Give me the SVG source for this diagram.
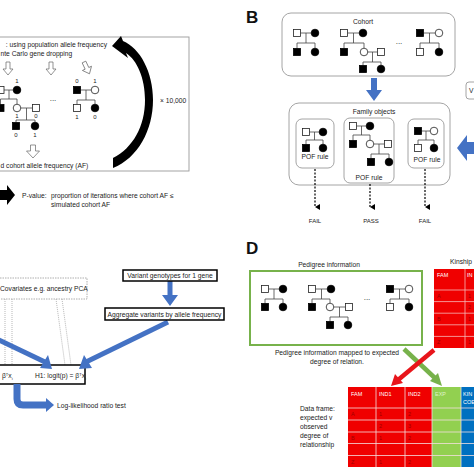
<svg xmlns="http://www.w3.org/2000/svg" width="474" height="474" viewBox="0 0 474 474">
<style>
text{font-family:"Liberation Sans",Arial,sans-serif;font-size:6.7px;fill:#222}
.c{text-anchor:middle}
.lbl{font-size:17px;font-weight:bold;fill:#111}
.o{fill:#fff;stroke:#222;stroke-width:0.8}
.f{fill:#000;stroke:#000;stroke-width:0.8}
.ln{stroke:#444;stroke-width:0.8;fill:none}
.box{fill:#fff;stroke:#9a9a9a;stroke-width:0.9}
.hol{fill:#fff;stroke:#666;stroke-width:0.7}
.blue{fill:#4472c4}
.num{font-size:6px}
.tw{fill:#fff;font-size:5.5px}
.td{fill:#9e0000;font-size:5.5px}
</style>
<defs>
<path id="hA" d="M-2,0 h4 v7 h3 l-5,6 l-5,-6 h3 z"/>
<marker id="dh" markerWidth="6" markerHeight="6" refX="3" refY="5" orient="auto" markerUnits="userSpaceOnUse" viewBox="0 0 6 6"><path d="M0,0 L3,5 L6,0 Z" fill="#000"/></marker>
</defs>

<!-- PANEL A -->
<g id="panelA">
<rect class="box" x="-5" y="37" width="194" height="134"/>
<text x="107" y="47" text-anchor="end">: using population allele frequency</text>
<text x="0.5" y="56">nte Carlo gene dropping</text>
<use href="#hA" class="hol" transform="translate(8,62)"/>
<use href="#hA" class="hol" transform="translate(51,62)"/>
<use href="#hA" class="hol" transform="translate(84,62) rotate(-25)"/>
<g id="a-ped1">
<path class="ln" d="M4,90 H13 M9,90 V99 M0.5,99 H17 M0.5,99 V104.5 M17,99 V104.2 M20.8,108 H32.5 M26.5,108 V120 M16,120 H35 M16,120 V122.5 M35,120 V122.2"/>
<rect class="o" x="-3" y="86.5" width="7" height="7"/>
<circle class="f" cx="17" cy="90" r="3.8"/>
<rect class="f" x="-3" y="104.5" width="7" height="7"/>
<circle class="o" cx="17" cy="108" r="3.8"/>
<rect class="o" x="32.5" y="104.5" width="7" height="7"/>
<rect class="f" x="12.5" y="122.5" width="7" height="7"/>
<circle class="f" cx="35" cy="126" r="3.8"/>
<text class="c num" x="17" y="83">1</text>
<text class="c num" x="17" y="117.5">1</text>
<text class="c num" x="36" y="117.5">0</text>
<text class="c num" x="16" y="137">0</text>
<text class="c num" x="35" y="137">1</text>
</g>
<text class="c" x="53" y="101" style="font-size:8px">...</text>
<g id="a-ped2">
<path class="ln" d="M80.5,90 H91.2 M86,90 V100 M77,100 H95 M77,100 V104.5 M95,100 V104.2"/>
<rect class="f" x="73.5" y="86.5" width="7" height="7"/>
<circle class="o" cx="95" cy="90" r="3.8"/>
<rect class="o" x="73.5" y="104.5" width="7" height="7"/>
<circle class="f" cx="95" cy="108" r="3.8"/>
<text class="c num" x="77" y="83">0</text>
<text class="c num" x="95" y="83">1</text>
<text class="c num" x="77" y="119">1</text>
<text class="c num" x="95" y="119">0</text>
</g>
<path class="hol" transform="translate(33,145)" d="M-2.5,0 h5 v6 h4 l-6.5,7 l-6.5,-7 h4 z"/>
<text x="0.5" y="168">d cohort allele frequency (AF)</text>
<path id="loop" fill="#000" d="M112,46 L121,36 L123,41 C140,48 153,72 153,100 C153,130 138,158 113,168 L113,158 C133,148 145,126 145,100 C145,78 137,60 126,53 L128,58 Z"/>
<text x="160" y="103">× 10,000</text>
<path id="pArrow" fill="#000" d="M-5,190 H7 V185 L15,195 L7,205 V200 H-5 Z"/>
<text x="22" y="197.5">P-value:</text>
<text x="51" y="197.5">proportion of iterations where cohort AF ≤</text>
<text x="51" y="207">simulated cohort AF</text>
</g>

<!-- PANEL B -->
<g id="panelB">
<text class="lbl" x="246" y="23">B</text>
<g id="cohort">
<rect class="box" x="282" y="13" width="173" height="63" rx="9"/>
<text class="c" x="363" y="24">Cohort</text>
<path class="ln" d="M300.5,33 H311.2 M306,33 V43 M297,43 H315 M297,43 V48.5 M315,43 V48.2"/>
<rect class="o" x="293.5" y="29.5" width="7" height="7"/>
<circle class="f" cx="315" cy="33" r="3.8"/>
<rect class="f" x="293.5" y="48.5" width="7" height="7"/>
<circle class="f" cx="315" cy="52" r="3.8"/>
<path class="ln" d="M347.5,33 H359.2 M353.5,33 V43 M344,43 H364 M344,43 V48.5 M364,43 V48.2 M367.8,52 H377.5 M372.5,52 V62 M363,62 H381 M363,62 V65.5 M381,62 V65.2"/>
<rect class="o" x="340.5" y="29.5" width="7" height="7"/>
<circle class="f" cx="363" cy="33" r="3.8"/>
<rect class="f" x="340.5" y="48.5" width="7" height="7"/>
<circle class="o" cx="364" cy="52" r="3.8"/>
<rect class="o" x="377.5" y="48.5" width="7" height="7"/>
<rect class="f" x="359.5" y="65.5" width="7" height="7"/>
<circle class="f" cx="381" cy="69" r="3.8"/>
<text class="c" x="399" y="44" style="font-size:8px">...</text>
<path class="ln" d="M423.5,33 H435.2 M429.5,33 V43 M420,43 H439 M420,43 V48.5 M439,43 V48.2"/>
<rect class="f" x="416.5" y="29.5" width="7" height="7"/>
<circle class="o" cx="439" cy="33" r="3.8"/>
<rect class="o" x="416.5" y="48.5" width="7" height="7"/>
<circle class="f" cx="439" cy="52" r="3.8"/>
</g>
<path class="blue" d="M371,78 H377 V90 H382 L374,101 L366,90 H371 Z"/>
<g id="families">
<rect class="box" x="289" y="103" width="161" height="82" rx="10"/>
<text class="c" x="374" y="114">Family objects</text>
<g id="fam1">
<rect class="box" x="296" y="119" width="38" height="49" rx="6"/>
<path class="ln" d="M309.5,132 H319.2 M314.5,132 V140 M306,140 H323 M306,140 V144.5 M323,140 V144.2"/>
<rect class="o" x="302.5" y="128.5" width="7" height="7"/>
<circle class="f" cx="323" cy="132" r="3.8"/>
<rect class="f" x="302.5" y="144.5" width="7" height="7"/>
<circle class="f" cx="323" cy="148" r="3.8"/>
<text class="c" x="315" y="159">POF rule</text>
</g>
<g id="fam2">
<rect class="box" x="344" y="118" width="50" height="65" rx="6"/>
<path class="ln" d="M356.5,126 H366.2 M361.5,126 V135 M353,135 H370 M353,135 V140.5 M370,135 V140.2 M373.8,144 H384.5 M379,144 V154 M371,154 H389 M371,154 V158.5 M389,154 V158.2"/>
<rect class="o" x="349.5" y="122.5" width="7" height="7"/>
<circle class="f" cx="370" cy="126" r="3.8"/>
<rect class="f" x="349.5" y="140.5" width="7" height="7"/>
<circle class="o" cx="370" cy="144" r="3.8"/>
<rect class="o" x="384.5" y="140.5" width="7" height="7"/>
<rect class="f" x="367.5" y="158.5" width="7" height="7"/>
<circle class="f" cx="389" cy="162" r="3.8"/>
<text class="c" x="369" y="180">POF rule</text>
</g>
<g id="fam3">
<rect class="box" x="408" y="119" width="36" height="49" rx="6"/>
<path class="ln" d="M421.5,131 H430.2 M426,131 V140 M418,140 H434 M418,140 V144.5 M434,140 V144.2"/>
<rect class="f" x="414.5" y="127.5" width="7" height="7"/>
<circle class="o" cx="434" cy="131" r="3.8"/>
<rect class="o" x="414.5" y="144.5" width="7" height="7"/>
<circle class="f" cx="434" cy="148" r="3.8"/>
<text class="c" x="427" y="162">POF rule</text>
</g>
</g>
<g id="b-connectors" stroke="#000" stroke-width="1.2" stroke-dasharray="2,1.5" fill="none">
<path d="M315,169 V207" marker-end="url(#dh)"/>
<path d="M370,184 V207" marker-end="url(#dh)"/>
<path d="M425,169 V207" marker-end="url(#dh)"/>
</g>
<text class="c" x="315" y="223" style="font-size:6px">FAIL</text>
<text class="c" x="371" y="223" style="font-size:6px">PASS</text>
<text class="c" x="425" y="223" style="font-size:6px">FAIL</text>
<path class="blue" d="M457,148 L467,135 V142 H480 V154 H467 V161 Z"/>
<rect class="box" x="466" y="82" width="20" height="17" rx="3"/>
<text x="469" y="93">V</text>
</g>

<!-- PANEL C -->
<g id="panelC">
<rect x="-5" y="278" width="92" height="21" fill="#fff" stroke="#999" stroke-width="0.8" stroke-dasharray="1.5,1"/>
<text x="0" y="290.5">Covariates e.g. ancestry PCA</text>
<g stroke="#9a9a9a" stroke-width="0.7" stroke-dasharray="1,1" fill="none">
<path d="M5,299 V365 M12,299 V365 M56,299 L65,365 M62,299 L71,365"/>
</g>
<rect id="formula" x="-5" y="365" width="90" height="19" fill="#fff" stroke="#000" stroke-width="1.5"/>
<text x="2" y="378">β<tspan dy="-2.5" style="font-size:4px">T</tspan><tspan dy="2.5">x</tspan><tspan dy="1.5" style="font-size:4px">i</tspan></text>
<text x="35" y="378">H1: logit(p) = β<tspan dy="-2.5" style="font-size:4px">T</tspan><tspan dy="2.5">x</tspan><tspan dy="1.5" style="font-size:4px">i</tspan></text>
<g id="c-connectors">
<path d="M-5,338 L45,362" stroke="#4472c4" stroke-width="5" fill="none"/>
<path class="blue" d="M52,369 L40,368 L48,355 Z"/>
<path d="M168,322 L86,362" stroke="#4472c4" stroke-width="5" fill="none"/>
<path class="blue" d="M79,369 L84,355 L92,368 Z"/>
<path d="M17,384 V399 Q17,405 23,405 H47" stroke="#4472c4" stroke-width="7" fill="none"/>
<path class="blue" d="M46,398 L54,405 L46,412 Z"/>
<path class="blue" d="M167.5,281 H172.5 V295 H178 L170,306 L162,295 H167.5 Z"/>
</g>
<text x="57" y="407.5">Log-likelihood ratio test</text>
<g id="variantBox">
<rect x="123" y="270" width="94" height="11" fill="#fff" stroke="#000" stroke-width="1.5"/>
<text class="c" x="170" y="278">Variant genotypes for 1 gene</text>
</g>
<g id="aggBox">
<rect x="105" y="308" width="119" height="12" fill="#fff" stroke="#000" stroke-width="1.5"/>
<text class="c" x="164.5" y="316.5">Aggregate variants by allele frequency</text>
</g>
</g>

<!-- PANEL D -->
<g id="panelD">
<text class="lbl" x="246" y="254">D</text>
<text class="c" x="329" y="266.5">Pedigree information</text>
<g id="pedBox">
<rect x="250" y="271" width="172" height="74" fill="#fff" stroke="#77b24b" stroke-width="2"/>
<path class="ln" d="M268.5,289 H279.2 M274,289 V299 M265,299 H283 M265,299 V303.5 M283,299 V303.2"/>
<rect class="o" x="261.5" y="285.5" width="7" height="7"/>
<circle class="f" cx="283" cy="289" r="3.8"/>
<rect class="f" x="261.5" y="303.5" width="7" height="7"/>
<circle class="f" cx="283" cy="307" r="3.8"/>
<path class="ln" d="M315.5,289 H327.2 M321.5,289 V299 M312,299 H330 M312,299 V303.5 M330,299 V303.2 M333.8,307 H345.5 M339.5,307 V317 M330,317 H348 M330,317 V321.5 M348,317 V321.2"/>
<rect class="o" x="308.5" y="285.5" width="7" height="7"/>
<circle class="f" cx="331" cy="289" r="3.8"/>
<rect class="f" x="308.5" y="303.5" width="7" height="7"/>
<circle class="o" cx="330" cy="307" r="3.8"/>
<rect class="o" x="345.5" y="303.5" width="7" height="7"/>
<rect class="f" x="326.5" y="321.5" width="7" height="7"/>
<circle class="f" cx="348" cy="325" r="3.8"/>
<text class="c" x="367" y="300" style="font-size:8px">...</text>
<path class="ln" d="M393.5,289 H405.2 M399.5,289 V299 M390,299 H409 M390,299 V303.5 M409,299 V303.2"/>
<rect class="f" x="386.5" y="285.5" width="7" height="7"/>
<circle class="o" cx="409" cy="289" r="3.8"/>
<rect class="o" x="386.5" y="303.5" width="7" height="7"/>
<circle class="f" cx="409" cy="307" r="3.8"/>
</g>
<text class="c" x="337" y="354.5">Pedigree information mapped to expected</text>
<text class="c" x="337" y="363.5">degree of relation.</text>
<text x="450" y="264">Kinship</text>
<g id="kinTable">
<rect x="434" y="269" width="46" height="79" fill="#f00000"/>
<g stroke="#f6b8b8" stroke-width="0.8">
<path d="M434,290 H480 M434,301.6 H480 M434,313.2 H480 M434,324.8 H480 M434,336.4 H480 M465,269 V348"/>
</g>
<text class="tw" x="437" y="277">FAM</text>
<text class="tw" x="467" y="277">IN</text>
<text class="td" x="437" y="297.5">A</text><text class="td" x="468" y="297.5">1</text>
<text class="td" x="468" y="309">2</text>
<text class="td" x="437" y="320.5">B</text><text class="td" x="468" y="320.5">1</text>
<text class="td" x="437" y="344">Z</text><text class="td" x="468" y="344">1</text>
</g>
<g id="d-connectors">
<path d="M404,349 L436,379" stroke="#77b24b" stroke-width="4.5" fill="none"/>
<path d="M442,386 L430,381 L438,373 Z" fill="#77b24b"/>
<path d="M434,350 L398,380" stroke="#e8151b" stroke-width="4.5" fill="none"/>
<path d="M391,386 L395,374 L403,383 Z" fill="#e8151b"/>
</g>
<text x="300" y="411">Data frame:</text>
<text x="300" y="420">expected v</text>
<text x="300" y="429">observed</text>
<text x="300" y="437.5">degree of</text>
<text x="300" y="446.5">relationship</text>
<g id="dataFrame">
<rect x="348" y="387" width="84" height="80" fill="#f00000"/>
<rect x="432" y="387" width="29" height="80" fill="#92d050"/>
<rect x="461" y="387" width="20" height="80" fill="#0070c0"/>
<g stroke="#f4dede" stroke-width="0.8">
<path d="M348,408 H481 M348,420 H481 M348,432 H481 M348,443.5 H481 M348,455.5 H481 M376,387 V467 M405,387 V467 M432,387 V467 M461,387 V467"/>
</g>
<text class="tw" x="351" y="396">FAM</text>
<text class="tw" x="379" y="396">IND1</text>
<text class="tw" x="408" y="396">IND2</text>
<text class="tw" x="435" y="396" style="fill:#dff2c8">EXP</text>
<text class="tw" x="463" y="396">KIN</text>
<text class="tw" x="463" y="404">COE</text>
<text class="td" x="351" y="416">A</text><text class="td" x="379" y="416">1</text><text class="td" x="408" y="416">2</text>
<text class="td" x="379" y="428">2</text><text class="td" x="408" y="428">3</text>
<text class="td" x="351" y="440">B</text><text class="td" x="379" y="440">1</text><text class="td" x="408" y="440">2</text>
<text class="td" x="351" y="463.5">Z</text><text class="td" x="379" y="463.5">1</text><text class="td" x="408" y="463.5">2</text>
</g>
</g>
</svg>
